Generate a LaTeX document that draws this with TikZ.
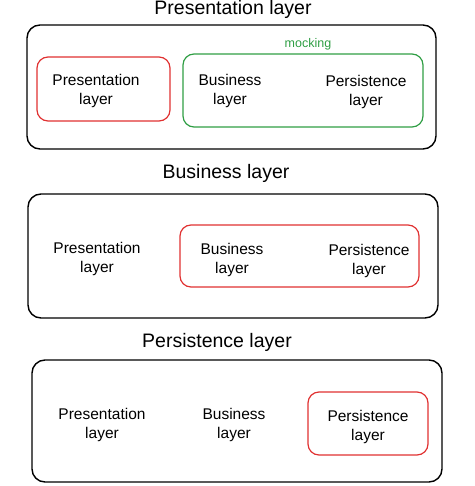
\documentclass[tikz,border=0pt]{standalone}
\usepackage{fontspec}
\setmainfont{Liberation Sans}
\definecolor{xred}{HTML}{E03131}
\definecolor{xgreen}{HTML}{2F9E44}
\tikzset{
  outerbox/.style={draw=black,line width=1.4pt,rounded corners=13pt},
  redbox/.style={draw=xred,line width=1.2pt,rounded corners=11pt},
  greenbox/.style={draw=xgreen,line width=1.2pt,rounded corners=11pt},
  lbl/.style={align=center,font=\fontsize{15.5}{19}\selectfont},
  ttl/.style={font=\fontsize{19.5}{22}\selectfont},
}
\begin{document}
\begin{tikzpicture}[x=1pt,y=-1pt]
\useasboundingbox (0,0) rectangle (474,486);
% presentation layer test
\node[ttl] (t1) at (233,9) {Presentation layer};
\draw[outerbox] (27,25) rectangle (436,149);
\draw[redbox] (37,57) rectangle (170,121);
\draw[greenbox] (183,54) rectangle (423,127);
\node[font=\fontsize{12.5}{14}\selectfont,text=xgreen] (m1) at (308,44) {mocking};
\node[lbl] (p1) at (96,91) {Presentation\\layer};
\node[lbl] (b1) at (230,91) {Business\\layer};
\node[lbl] (s1) at (366,92) {Persistence\\layer};
% business layer test
\node[ttl] (t2) at (226,173) {Business layer};
\draw[outerbox] (28,194) rectangle (438,318);
\draw[redbox] (180,225) rectangle (419,287);
\node[lbl] (p2) at (97,259) {Presentation\\layer};
\node[lbl] (b2) at (232,260) {Business\\layer};
\node[lbl] (s2) at (369,261) {Persistence\\layer};
% persistence layer test
\node[ttl] (t3) at (217,342) {Persistence layer};
\draw[outerbox] (32,360) rectangle (442,482);
\draw[redbox] (308,392) rectangle (428,455);
\node[lbl] (p3) at (102,425) {Presentation\\layer};
\node[lbl] (b3) at (234,425) {Business\\layer};
\node[lbl] (s3) at (368,427) {Persistence\\layer};
\end{tikzpicture}
\end{document}
